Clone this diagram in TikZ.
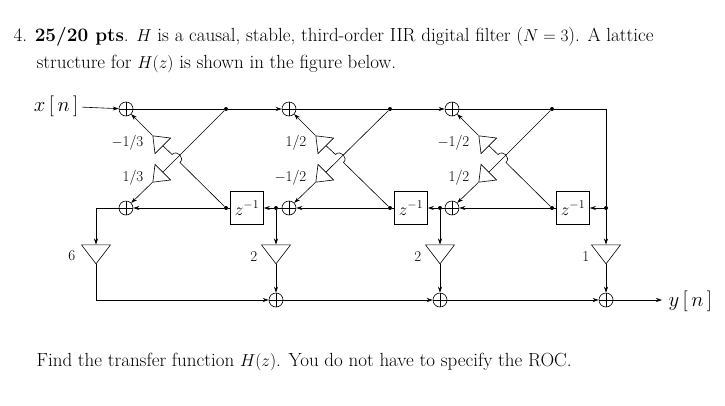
\documentclass[tikz,border=0pt]{standalone}
\usetikzlibrary{shapes.geometric,arrows.meta,calc}
\begin{document}
\begin{tikzpicture}[x=1pt,y=-1pt,
  adder/.style={circle,draw,minimum size=14pt,inner sep=0pt,path picture={\draw (path picture bounding box.north)--(path picture bounding box.south)(path picture bounding box.west)--(path picture bounding box.east);}},
  dot/.style={circle,fill,inner sep=0pt,minimum size=4pt},
  amp/.style={isosceles triangle,isosceles triangle apex angle=76,shape border uses incircle,draw,fill=white,inner sep=0pt,minimum height=14pt,minimum width=22pt},
  oamp/.style={isosceles triangle,isosceles triangle apex angle=75,draw,fill=white,inner sep=0pt,minimum height=19pt,minimum width=28pt,shape border rotate=-90},
  delay/.style={draw,minimum size=33pt,inner sep=0pt},
  arr/.style={-{Stealth[length=6pt,width=4pt]}},
  lab/.style={font=\fontsize{15}{15}\selectfont},
  every path/.style={line width=0.6pt}]
\useasboundingbox (0,0) rectangle (725,405);
\node[anchor=base west,font=\fontsize{19}{20}\selectfont] (t1) at (10,41) {4. \textbf{25/20 pts}. $H$ is a causal, stable, third-order IIR digital filter ($N=3$). A lattice};
\node[anchor=base west,font=\fontsize{19}{20}\selectfont] (t2) at (33,68) {structure for $H(z)$ is shown in the figure below.};
\node[anchor=base west,font=\fontsize{19}{20}\selectfont] (t3) at (33,366) {Find the transfer function $H(z)$. You do not have to specify the ROC.};
\node[font=\fontsize{22}{22}\selectfont,anchor=east] (x) at (82,106) {$x\,[\,n\,]$};
\node[font=\fontsize{22}{22}\selectfont,anchor=west] (y) at (665,301) {$y\,[\,n\,]$};
\coordinate (ye) at (662,300);
% stages
\foreach \i/\xa/\xd/\xb/\kt/\kb in {1/126/226/247/{$-$1/3}/{1/3},2/289/390/411/{1/2}/{$-$1/2},3/452/552/573/{$-$1/2}/{1/2}}{
  \node[adder] (T\i) at (\xa,109) {};
  \node[adder] (B\i) at (\xa,208) {};
  \node[dot] (DT\i) at (\xd,109) {};
  \node[dot] (DL\i) at (\xd,208) {};
  \node[delay] (Z\i) at (\xb,208) {\fontsize{17}{17}\selectfont$z^{-1}$};
  \node[amp,shape border rotate=135] (GA\i) at (\xa+33,142) {};
  \node[amp,shape border rotate=225] (GB\i) at (\xa+33,176) {};
  \node[lab,anchor=east] (la\i) at (\xa+21,143) {\kt};
  \node[lab,anchor=east] (lb\i) at (\xa+21,178) {\kb};
  \coordinate (C\i) at ({(\xa+\xd)/2},158.5);
  \draw (DL\i) -- ($(C\i)+(4,4)$) .. controls ($(C\i)+(9,-1)$) and ($(C\i)+(1,-9)$) .. ($(C\i)+(-4,-4)$) -- (GA\i);
  \draw[arr] (GA\i) -- (T\i);
  \draw (DT\i) -- (GB\i);
  \draw[arr] (GB\i) -- (B\i);
  \draw (T\i) -- (DT\i);
  \draw[arr] (DL\i) -- (B\i);
  \draw (Z\i) -- (DL\i);
}
\node[dot] (DR1) at (276,208) {};
\node[dot] (DR2) at (440,208) {};
\node[dot] (DR3) at (606,208) {};
\coordinate (corner) at (606,109);
\draw[arr] (x) -- (T1);
\draw[arr] (DT1) -- (T2);
\draw[arr] (DT2) -- (T3);
\draw (DT3) -- (corner) -- (DR3);
\foreach \i in {1,2,3}{\draw[arr] (DR\i) -- (Z\i);}
\draw (B2) -- (DR1);
\draw (B3) -- (DR2);
% output
\node[oamp] (A0) at (96,252) {};
\node[oamp] (A1) at (276,252) {};
\node[oamp] (A2) at (440,252) {};
\node[oamp] (A3) at (606,252) {};
\node[lab,anchor=east] (n0) at (79,256) {6};
\node[lab,anchor=east] (n1) at (261,257) {2};
\node[lab,anchor=east] (n2) at (425,257) {2};
\node[lab,anchor=east] (n3) at (593,257) {1};
\node[adder] (O1) at (276,300) {};
\node[adder] (O2) at (440,300) {};
\node[adder] (O3) at (606,300) {};
\coordinate (bl) at (96,208);
\coordinate (ol) at (96,300);
\draw[arr] (B1) -- (bl) -- (A0);
\draw[arr] (A0) -- (ol) -- (O1);
\foreach \i in {1,2,3}{\draw[arr] (DR\i) -- (A\i); \draw[arr] (A\i) -- (O\i);}
\draw[arr] (O1) -- (O2);
\draw[arr] (O2) -- (O3);
\draw[arr] (O3) -- (ye);
\end{tikzpicture}
\end{document}
